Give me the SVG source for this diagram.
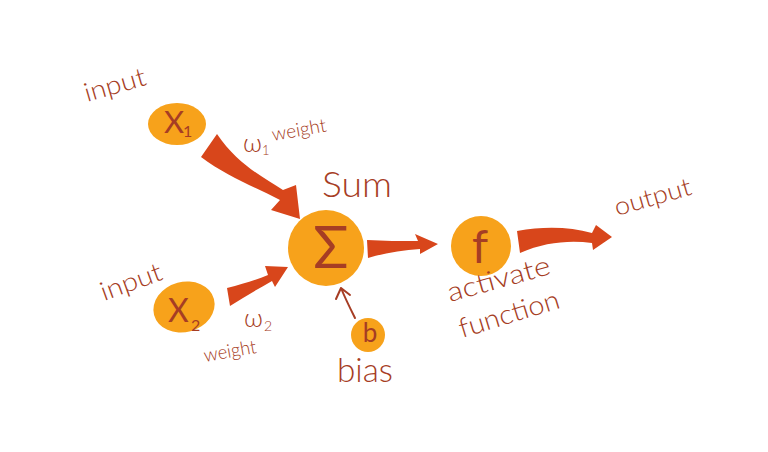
<svg xmlns="http://www.w3.org/2000/svg" width="768" height="452" viewBox="0 0 768 452">
<style>
.node{fill:#f7a21b}
.arr{fill:#d8461b}
.t{fill:#a63d24;font-family:"Lato","Open Sans","Liberation Sans",sans-serif;font-weight:300}
.s{font-weight:400}
.thin{fill:none;stroke:#a63d24;stroke-width:2;stroke-linecap:round;stroke-linejoin:round}
</style>
<rect width="768" height="452" fill="#ffffff"/>
<g id="connectors">
<path class="arr" d="M217,134 C238,165 262,176 283,190 L296,185 L300,219 L271,210 L280,200 C255,187 226,176 201,157 Z"/>
<path class="arr" d="M227,288 C243,284 256,280 268,275 L265,266 L288,267 L275,287 L272,281 C258,289 244,297 230,306 Z"/>
<path class="arr" d="M367,240 C384,241 400,241 418,241 L415,234 L438,244 L420,254 L420,249 C402,250 385,253 368,258 Z"/>
<path class="arr" d="M517,231 C545,226 570,227 592,233 L596,225 L612,237 L593,250 L592,243 C570,240 545,242 520,253 Z"/>
<path class="thin" d="M355,318 C350,308 345,298 341,288 M336,299 L341,288 L350,295"/>
</g>
<g id="x1">
<ellipse class="node" cx="177" cy="124" rx="29" ry="21"/>
<text class="t s" x="164" y="133" font-size="31">X</text>
<text class="t s" x="183" y="137" font-size="16">1</text>
<text class="t" font-size="26" transform="translate(87,102) rotate(-16)" textLength="63" lengthAdjust="spacingAndGlyphs">input</text>
<text class="t" x="243" y="152" font-size="26">ω</text>
<text class="t" x="262" y="155" font-size="13">1</text>
<text class="t" font-size="19" transform="translate(273,141) rotate(-10)" textLength="55" lengthAdjust="spacingAndGlyphs">weight</text>
</g>
<g id="x2">
<ellipse class="node" cx="184" cy="307" rx="31" ry="25" transform="rotate(-15 184 307)"/>
<text class="t s" x="168" y="322" font-size="32">X</text>
<text class="t s" x="191" y="331" font-size="16">2</text>
<text class="t" font-size="26" transform="translate(104,301) rotate(-20)" textLength="64" lengthAdjust="spacingAndGlyphs">input</text>
<text class="t" x="244" y="327" font-size="26">ω</text>
<text class="t" x="264" y="331" font-size="14">2</text>
<text class="t" font-size="19" transform="translate(205,362) rotate(-10)" textLength="53" lengthAdjust="spacingAndGlyphs">weight</text>
</g>
<g id="sum">
<circle class="node" cx="326" cy="248" r="38"/>
<text class="t s" x="331" y="268" font-size="58" text-anchor="middle">Σ</text>
<text class="t" x="322" y="197" font-size="36" textLength="70" lengthAdjust="spacingAndGlyphs">Sum</text>
</g>
<g id="bias">
<circle class="node" cx="368" cy="335" r="17"/>
<text class="t s" x="370" y="342" font-size="26" text-anchor="middle">b</text>
<text class="t" x="337" y="382" font-size="33" textLength="56" lengthAdjust="spacingAndGlyphs">bias</text>
</g>
<g id="activation">
<circle class="node" cx="481" cy="246" r="30"/>
<text class="t s" x="480" y="263" font-size="46" text-anchor="middle">f</text>
<text class="t" font-size="27" transform="translate(450,302) rotate(-15.5)" textLength="106" lengthAdjust="spacingAndGlyphs">activate</text>
<text class="t" font-size="27" transform="translate(462,338) rotate(-17)" textLength="104" lengthAdjust="spacingAndGlyphs">function</text>
</g>
<g id="output">
<text class="t" font-size="25" transform="translate(617,216) rotate(-16)" textLength="79" lengthAdjust="spacingAndGlyphs">output</text>
</g>
</svg>
